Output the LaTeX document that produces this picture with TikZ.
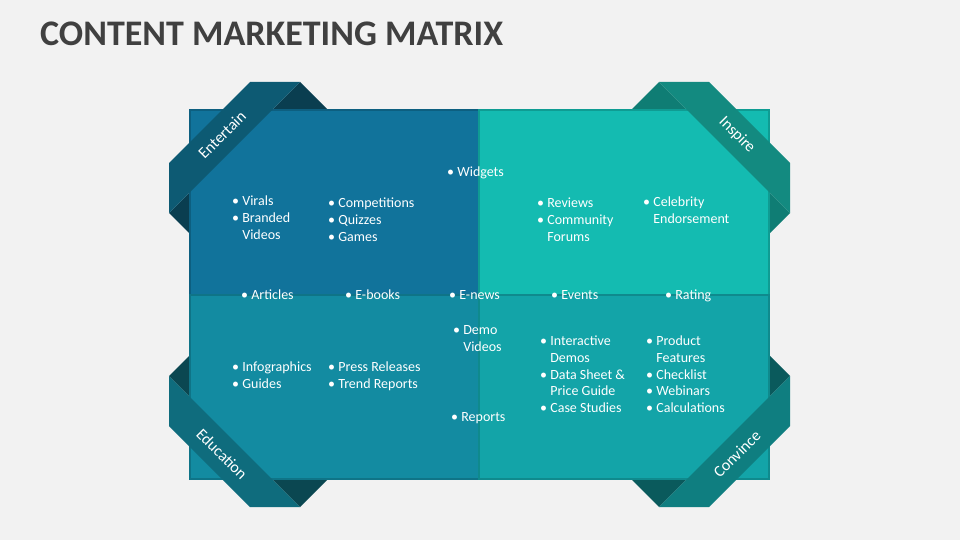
\documentclass[tikz,border=0pt]{standalone}
\usepackage{fontspec}
\setmainfont{Carlito}

\definecolor{pagebg}{HTML}{F2F2F2}
\definecolor{titlegray}{HTML}{404040}
\definecolor{tlfill}{HTML}{11739B}
\definecolor{tlline}{HTML}{0D5F80}
\definecolor{tlband}{HTML}{0D5A73}
\definecolor{tlfold}{HTML}{0A3E50}
\definecolor{trfill}{HTML}{14BBB1}
\definecolor{trline}{HTML}{0F9C93}
\definecolor{trband}{HTML}{138A80}
\definecolor{trfold}{HTML}{0F7D74}
\definecolor{blfill}{HTML}{138BA1}
\definecolor{blline}{HTML}{0F7487}
\definecolor{blband}{HTML}{0F6C7D}
\definecolor{blfold}{HTML}{0B4751}
\definecolor{brfill}{HTML}{13A4A8}
\definecolor{brline}{HTML}{0F8A8D}
\definecolor{brband}{HTML}{0F7E80}
\definecolor{brfold}{HTML}{0A5A5C}

\newcommand{\bul}{\textbullet~}
\newcommand{\nobul}{\phantom{\textbullet~}}

\tikzset{
  entry/.style={anchor=base west, inner sep=0pt, text=white, font=\fontsize{14}{16}\selectfont},
  tag/.style={inner sep=0pt, text=white, font=\fontsize{16}{18}\selectfont},
  cell/.style={line width=2pt},
}

\begin{document}
\begin{tikzpicture}[x=1pt,y=-1pt]
\useasboundingbox (0,0) rectangle (960,540);
\fill[pagebg] (0,0) rectangle (960,540);

\node[anchor=base west, inner sep=0pt, text=titlegray, font=\fontsize{36}{40}\selectfont\bfseries] (title) at (40,46) {CONTENT MARKETING MATRIX};

% folds behind the ribbons
\fill[tlfold] (300,82) -- (328,110) -- (272,110) -- cycle;
\fill[tlfold] (169,213) -- (190,234) -- (190,192) -- cycle;
\fill[trfold] (659,82) -- (631,110) -- (687,110) -- cycle;
\fill[trfold] (790,213) -- (769,234) -- (769,192) -- cycle;
\fill[blfold] (300,507) -- (328,479) -- (272,479) -- cycle;
\fill[blfold] (169,376) -- (190,355) -- (190,397) -- cycle;
\fill[brfold] (659,507) -- (631,479) -- (687,479) -- cycle;
\fill[brfold] (790,376) -- (769,355) -- (769,397) -- cycle;

% matrix
\draw[cell, fill=tlfill, draw=tlline] (190,110) rectangle (479,295);
\draw[cell, fill=trfill, draw=trline] (479,110) rectangle (769,295);
\draw[cell, fill=blfill, draw=blline] (190,295) rectangle (479,479);
\draw[cell, fill=brfill, draw=brline] (479,295) rectangle (769,479);

% ribbons
\fill[tlband] (250,82) -- (300,82) -- (169,213) -- (169,163) -- cycle;
\fill[trband] (709,82) -- (659,82) -- (790,213) -- (790,163) -- cycle;
\fill[blband] (250,507) -- (300,507) -- (169,376) -- (169,426) -- cycle;
\fill[brband] (709,507) -- (659,507) -- (790,376) -- (790,426) -- cycle;

\node[tag, rotate=45] (entertain) at (222,135) {Entertain};
\node[tag, rotate=-45] (inspire) at (737,135) {Inspire};
\node[tag, rotate=-45] (education) at (222,454) {Education};
\node[tag, rotate=45] (convince) at (737,454) {Convince};

% entries
\node[entry] (widgets) at (447,176.5) {\bul Widgets};

\foreach \t [count=\n from 0] in {{\bul Virals},{\bul Branded},{\nobul Videos}}
  \node[entry] (virals-\n) at (232,205.5+17*\n) {\t};

\foreach \t [count=\n from 0] in {Competitions, Quizzes, Games}
  \node[entry] (games-\n) at (328,207.5+17*\n) {\bul \t};

\foreach \t [count=\n from 0] in {{\bul Reviews},{\bul Community},{\nobul Forums}}
  \node[entry] (reviews-\n) at (537,207.5+17*\n) {\t};

\foreach \t [count=\n from 0] in {{\bul Celebrity},{\nobul Endorsement}}
  \node[entry] (celebrity-\n) at (643,206.5+17*\n) {\t};

\foreach \t/\x [count=\n] in {Articles/241, E-books/345, E-news/449, Events/551, Rating/665}
  \node[entry] (mid-\n) at (\x,299.5) {\bul \t};

\foreach \t [count=\n from 0] in {{\bul Demo},{\nobul Videos}}
  \node[entry] (demo-\n) at (453,334.5+17*\n) {\t};

\foreach \t [count=\n from 0] in {Infographics, Guides}
  \node[entry] (guides-\n) at (232,371.5+17*\n) {\bul \t};

\foreach \t [count=\n from 0] in {Press Releases, Trend Reports}
  \node[entry] (press-\n) at (328,371.5+17*\n) {\bul \t};

\foreach \t [count=\n from 0] in {{\bul Interactive},{\nobul Demos},{\bul Data Sheet \&},{\nobul Price Guide},{\bul Case Studies}}
  \node[entry] (demos-\n) at (540,345.5+16.8*\n) {\t};

\foreach \t [count=\n from 0] in {{\bul Product},{\nobul Features},{\bul Checklist},{\bul Webinars},{\bul Calculations}}
  \node[entry] (product-\n) at (646,345.5+16.8*\n) {\t};

\node[entry] (reports) at (451,421.5) {\bul Reports};
\end{tikzpicture}
\end{document}
